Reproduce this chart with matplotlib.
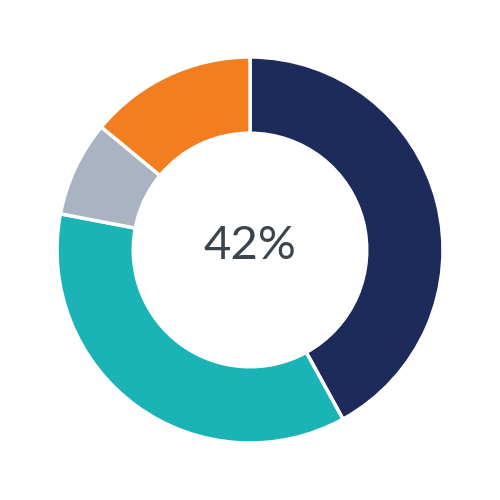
import matplotlib
matplotlib.use("Agg")
import matplotlib.pyplot as plt

labels = ["A", "B", "C", "D"]
values = [42, 36, 8, 14]
colors = ["#1c2b59", "#1bb4b6", "#a9b3c2", "#f37e20"]
center_text = "42%"

fig = plt.figure(figsize=(5, 5), dpi=100)
ax = fig.add_axes([0, 0, 1, 1])
ax.pie(values, colors=colors, startangle=90, counterclock=False,
       radius=1.0,
       wedgeprops=dict(width=0.395, edgecolor="white", linewidth=2.5))
lim = 250 / 193
ax.set_xlim(-lim, lim)
ax.set_ylim(-lim, lim)
ax.set_aspect("equal")
ax.axis("off")
ax.text(0, 0.02, center_text, ha="center", va="center", fontsize=34,
        family="Lato", color="#3b444c")
fig.savefig("out.png", dpi=100, facecolor="white")
